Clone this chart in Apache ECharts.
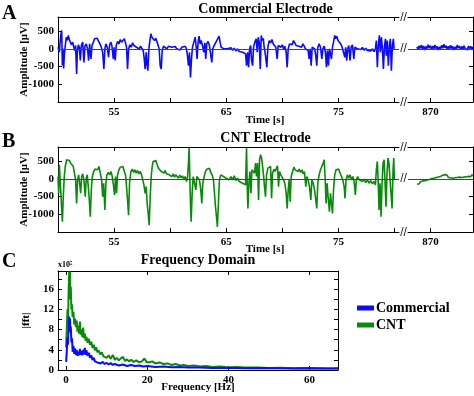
<!DOCTYPE html>
<html>
<head>
<meta charset="utf-8">
<script src="https://cdn.jsdelivr.net/npm/echarts@6.0.0/dist/echarts.min.js"></script>
<style>html,body{margin:0;padding:0;background:#fff;}#c{width:474px;height:396px;}</style>
</head>
<body>
<div id="c"></div>
<script>
// ---------------- DATA ----------------
const timeTicks = [55, 60, 65, 70, 75, 80];
const timeLabels = [55, 65, 75];
const tailTicks = [870];
const tailLabels = [870];
const ampTicks = [-1000, -500, 0, 500];
const ampLabels = [-1000, -500, 0, 500];
const freqTicks = [0, 20, 40, 60];
const freqLabels = [0, 20, 40, 60];
const fftTicks = [0, 2, 4, 6, 8, 10, 12, 14, 16, 18];
const fftLabels = [0, 4, 8, 12, 16];

const commercialTrace = [
[50.00,47],[50.12,-95],[50.24,380],[50.33,520],[50.39,-470],[50.45,0],[50.50,-550],[50.56,-190],[50.65,95],[50.74,330],
[50.83,240],[50.92,380],[51.01,265],[51.10,190],[51.19,115],[51.31,190],[51.39,75],[51.48,-47],[51.57,95],[51.66,-710],
[51.72,-95],[51.81,115],[51.90,47],[51.99,-330],[52.08,95],[52.20,190],[52.31,-380],[52.40,75],[52.52,140],[52.64,0],
[52.73,-330],[52.82,140],[52.94,-285],[53.03,95],[53.15,190],[53.26,285],[53.38,235],[53.50,300],[53.62,210],[53.74,140],
[53.86,47],[53.98,-95],[54.09,-570],[54.18,0],[54.27,140],[54.39,47],[54.51,-235],[54.60,115],[54.72,190],[54.81,75],
[54.93,-285],[55.01,47],[55.10,-330],[55.19,95],[55.31,210],[55.43,140],[55.55,265],[55.67,190],[55.79,235],[55.91,285],
[56.02,170],[56.11,47],[56.20,-570],[56.29,0],[56.41,115],[56.53,47],[56.65,170],[56.77,95],[56.88,140],[57.00,47],
[57.12,95],[57.24,0],[57.36,75],[57.48,20],[57.60,-47],[57.69,-285],[57.77,-570],[57.86,-95],[57.92,-380],[58.01,-615],
[58.10,0],[58.19,235],[58.28,425],[58.37,330],[58.49,380],[58.61,235],[58.72,300],[58.84,190],[58.93,95],[59.02,0],
[59.11,-475],[59.20,-570],[59.29,-47],[59.41,75],[59.55,47],[59.70,0],[59.85,75],[60.00,20],[60.15,47],[60.30,0],
[60.45,65],[60.59,0],[60.74,30],[60.89,-30],[61.04,47],[61.19,0],[61.34,75],[61.45,0],[61.54,-190],[61.63,-475],
[61.72,-95],[61.81,-805],[61.90,-285],[61.99,47],[62.11,190],[62.23,330],[62.31,95],[62.40,-285],[62.49,190],[62.58,360],
[62.67,140],[62.76,235],[62.88,95],[63.00,-95],[63.09,170],[63.17,-285],[63.26,140],[63.38,210],[63.50,95],[63.62,47],
[63.71,-380],[63.80,0],[63.92,95],[64.04,140],[64.15,235],[64.27,190],[64.36,360],[64.45,190],[64.54,47],[64.66,95],
[64.81,0],[64.96,47],[65.10,0],[65.25,30],[65.42,30],[65.57,-40],[65.71,20],[65.86,-57],[66.01,0],[66.16,-75],
[66.31,-20],[66.46,-95],[66.60,-47],[66.72,-140],[66.81,-475],[66.90,-95],[66.99,-520],[67.08,0],[67.17,95],[67.26,-330],
[67.35,-475],[67.43,47],[67.55,190],[67.67,285],[67.76,-95],[67.85,330],[67.94,190],[68.03,-570],[68.12,380],[68.21,235],
[68.30,300],[68.38,47],[68.50,-190],[68.62,-520],[68.71,47],[68.83,235],[68.95,170],[69.07,265],[69.19,140],[69.30,190],
[69.42,47],[69.54,-285],[69.63,95],[69.75,140],[69.87,47],[69.99,115],[70.11,0],[70.22,75],[70.34,-95],[70.43,-520],
[70.52,0],[70.64,140],[70.76,190],[70.88,115],[71.00,235],[71.11,170],[71.23,95],[71.35,140],[71.47,75],[71.59,115],
[71.71,47],[71.83,140],[71.95,75],[72.06,0],[72.18,47],[72.30,-47],[72.39,-285],[72.48,0],[72.57,-475],[72.66,47],
[72.78,95],[72.89,0],[72.98,-190],[73.07,-475],[73.16,47],[73.28,140],[73.40,47],[73.52,-285],[73.61,0],[73.73,75],
[73.84,-95],[73.93,-520],[74.02,-47],[74.11,-475],[74.20,0],[74.29,47],[74.38,-285],[74.47,47],[74.56,190],[74.67,380],
[74.76,285],[74.85,360],[74.97,235],[75.09,265],[75.21,140],[75.33,47],[75.45,0],[75.57,-235],[75.65,47],[75.74,-330],
[75.83,0],[75.92,95],[76.04,-330],[76.13,47],[76.25,115],[76.37,-285],[76.46,47],[76.57,95],[76.69,0],[76.84,47],
[76.99,-20],[77.14,40],[77.29,-40],[77.43,20],[77.58,-47],[77.73,0],[77.88,-57],[78.03,0],[78.18,-75],[78.30,0],
[78.38,235],[78.47,-520],[78.56,95],[78.65,380],[78.74,-95],[78.83,330],[78.92,0],[79.01,-570],[79.10,47],[79.19,285],
[79.27,-190],[79.36,235],[79.45,-475],[79.54,47],[79.63,285],[79.72,-615],[79.81,95],[79.90,285],[79.96,0]
];

const commercialTail = [
[868.8,60],[868.9,-20],[869.0,90],[869.1,10],[869.2,110],[869.3,0],[869.4,80],[869.5,-30],[869.6,70],[869.7,10],
[869.8,120],[869.9,20],[870.0,90],[870.1,-20],[870.2,80],[870.3,0],[870.4,110],[870.5,10],[870.6,70],[870.7,-30],
[870.8,60],[870.9,0],[871.0,100],[871.1,20],[871.2,130],[871.3,30],[871.4,90],[871.5,-10],[871.6,70],[871.7,0],
[871.8,100],[871.9,10],[872.0,70],[872.1,-30],[872.2,60],[872.3,0],[872.4,110],[872.5,20],[872.6,80],[872.7,-20],
[872.8,70],[872.9,0],[873.0,90],[873.1,10],[873.2,60],[873.3,-30],[873.4,80],[873.5,10],[873.6,70],[873.7,-10],[873.8,60]
];

const cntTrace = [
[50.00,66],[50.06,-407],[50.12,398],[50.21,-123],[50.30,-691],[50.39,-1212],[50.47,-502],[50.56,66],[50.65,350],[50.77,540],
[50.89,587],[51.01,521],[51.13,445],[51.25,464],[51.36,350],[51.48,303],[51.57,-28],[51.66,-691],[51.75,-28],[51.84,114],
[51.93,-123],[52.02,-407],[52.11,66],[52.20,142],[52.31,-28],[52.43,-502],[52.52,19],[52.61,114],[52.70,-218],[52.79,-597],
[52.88,-1070],[52.97,-312],[53.06,66],[53.18,208],[53.29,275],[53.41,331],[53.53,256],[53.65,350],[53.77,161],[53.89,-28],
[53.98,-502],[54.07,-123],[54.18,-881],[54.27,-123],[54.36,114],[54.48,180],[54.60,114],[54.72,208],[54.84,66],[54.96,-218],
[55.04,-455],[55.13,66],[55.22,-407],[55.31,114],[55.43,256],[55.55,331],[55.67,275],[55.79,350],[55.91,208],[56.02,114],
[56.11,-218],[56.20,-597],[56.29,-1023],[56.38,-123],[56.50,208],[56.62,275],[56.74,180],[56.85,256],[56.97,161],[57.09,237],
[57.21,142],[57.33,208],[57.45,114],[57.57,66],[57.66,-170],[57.77,-407],[57.86,-218],[57.95,-691],[58.04,-975],[58.13,-1307],
[58.22,-502],[58.31,66],[58.40,350],[58.48,492],[58.61,445],[58.72,521],[58.84,398],[58.96,303],[59.08,331],[59.20,208],
[59.32,256],[59.44,161],[59.55,237],[59.67,142],[59.79,180],[59.91,114],[60.03,161],[60.15,66],[60.27,142],[60.39,47],
[60.50,114],[60.62,66],[60.74,19],[60.86,104],[60.98,28],[61.10,85],[61.22,-9],[61.34,66],[61.45,-76],[61.54,19],
[61.63,445],[61.69,880],[61.75,66],[61.81,-691],[61.87,-1212],[61.96,-407],[62.05,66],[62.17,19],[62.29,-312],[62.37,66],
[62.49,114],[62.61,-28],[62.73,-312],[62.82,-691],[62.91,-123],[63.03,66],[63.15,208],[63.26,275],[63.38,237],[63.50,303],
[63.62,180],[63.74,114],[63.86,-28],[63.95,-407],[64.04,-786],[64.13,-1070],[64.21,-1354],[64.30,-691],[64.39,-28],[64.51,114],
[64.63,161],[64.75,66],[64.87,114],[64.99,19],[65.10,66],[65.25,-28],[65.42,66],[65.57,-28],[65.71,85],[65.86,-47],
[66.01,19],[66.16,-76],[66.31,-28],[66.46,-123],[66.60,-76],[66.72,-170],[66.81,880],[66.87,-218],[66.93,-833],[67.02,-123],
[67.11,208],[67.20,-407],[67.29,256],[67.40,303],[67.52,161],[67.61,445],[67.70,66],[67.79,445],[67.88,-597],[67.97,540],
[68.06,682],[68.15,587],[68.24,350],[68.32,114],[68.41,-218],[68.50,-502],[68.59,114],[68.71,303],[68.83,256],[68.95,350],
[69.04,-549],[69.13,161],[69.24,275],[69.36,208],[69.48,303],[69.57,369],[69.66,-218],[69.75,208],[69.87,114],[69.99,66],
[70.11,-28],[70.22,-123],[70.34,-407],[70.43,-833],[70.52,-312],[70.61,-28],[70.70,-644],[70.79,66],[70.91,208],[71.03,331],
[71.14,256],[71.26,303],[71.38,208],[71.50,275],[71.62,180],[71.74,256],[71.86,142],[71.97,208],[72.09,-218],[72.18,66],
[72.30,-28],[72.42,-218],[72.54,-597],[72.63,-28],[72.75,-123],[72.87,-312],[72.98,-597],[73.07,-833],[73.16,-123],[73.28,114],
[73.40,256],[73.52,350],[73.64,445],[73.73,540],[73.81,66],[73.90,-691],[73.99,-123],[74.08,-502],[74.20,-928],[74.29,-407],
[74.38,-691],[74.47,-975],[74.56,-312],[74.67,114],[74.79,256],[74.91,208],[75.03,275],[75.15,161],[75.27,66],[75.39,-28],
[75.51,-218],[75.59,-549],[75.68,-28],[75.80,114],[75.92,19],[76.04,114],[76.16,-28],[76.28,66],[76.40,-76],[76.51,-455],
[76.60,-28],[76.72,66],[76.84,-28],[76.99,19],[77.14,-76],[77.29,-9],[77.43,-104],[77.58,-28],[77.73,-123],[77.88,-47],
[78.03,-142],[78.18,-76],[78.30,-170],[78.38,256],[78.47,492],[78.56,-218],[78.62,-881],[78.71,-123],[78.80,-1070],[78.89,-123],
[78.98,445],[79.07,540],[79.16,-123],[79.24,-786],[79.33,161],[79.42,587],[79.51,445],[79.60,-28],[79.69,-407],[79.78,-833],
[79.87,256],[79.93,587],[79.99,-28]
];

const cntTail = [
[868.8,-150],[868.9,-100],[869.0,-140],[869.1,-80],[869.2,-120],[869.3,-60],[869.4,-110],[869.5,-50],[869.6,-90],[869.7,-30],
[869.8,-80],[869.9,-20],[870.0,-60],[870.1,0],[870.2,-40],[870.3,20],[870.4,-20],[870.5,40],[870.6,0],[870.7,50],
[870.8,10],[870.9,70],[871.0,30],[871.1,100],[871.2,60],[871.3,120],[871.4,70],[871.5,100],[871.6,40],[871.7,80],
[871.8,30],[871.9,70],[872.0,20],[872.1,70],[872.2,30],[872.3,80],[872.4,40],[872.5,90],[872.6,50],[872.7,90],
[872.8,40],[872.9,90],[873.0,50],[873.1,100],[873.2,60],[873.3,110],[873.4,70],[873.5,110],[873.6,60],[873.7,120],[873.8,80]
];

const cntSpectrum = [
[0.0,4.5],[0.2,9],[0.35,12],[0.5,10.5],[0.6,15],[0.75,19.4],[0.85,17],[0.95,19.5],[1.05,14],[1.15,16.5],
[1.3,12],[1.45,13],[1.6,10.5],[1.8,11.5],[2.0,9],[2.2,10.2],[2.4,8.5],[2.6,9.8],[2.8,7.6],[3.0,8.8],
[3.2,7.2],[3.4,9.6],[3.6,7.0],[3.8,8.0],[4.0,6.5],[4.2,8.4],[4.4,6.3],[4.6,7.2],[4.8,5.8],[5.0,6.6],
[5.3,5.4],[5.6,6.2],[5.9,5.0],[6.2,5.6],[6.5,4.4],[6.8,5.0],[7.1,3.9],[7.4,4.5],[7.7,3.5],[8.0,3.9],
[8.4,3.1],[8.8,3.5],[9.2,2.7],[9.6,3.0],[10.0,2.4],[10.5,2.9],[11.0,2.2],[11.5,3.0],[12.0,2.0],[12.5,2.4],
[13.0,1.9],[13.5,2.3],[14.0,2.6],[14.5,1.8],[15.0,2.1],[15.5,1.7],[16.0,2.0],[16.7,1.6],[17.3,1.9],[18.0,1.5],
[18.7,1.7],[19.3,2.3],[19.8,1.6],[20.5,1.5],[21.2,1.7],[22.0,1.3],[23.0,1.5],[24.0,1.2],[25.0,1.3],[26.0,1.0],
[27.0,1.2],[28.0,0.9],[29.0,1.0],[30.0,0.8],[31.5,0.9],[33.0,0.7],[34.5,0.8],[36.0,0.6],[38.0,0.7],[40.0,0.5],
[42.0,0.6],[44.0,0.5],[47.0,0.5],[50.0,0.4],[53.0,0.45],[56.0,0.35],[59.0,0.4],[62.0,0.35],[65.0,0.3],[67.0,0.35]
];

const commercialSpectrum = [
[0.0,1.6],[0.15,3.5],[0.3,6.5],[0.45,5.0],[0.6,8.5],[0.75,10.6],[0.85,9.0],[0.95,10.2],[1.05,7.5],[1.15,8.6],
[1.3,5.5],[1.45,6.3],[1.6,3.6],[1.8,4.8],[2.0,3.2],[2.2,4.3],[2.4,3.0],[2.6,4.0],[2.8,2.8],[3.0,3.6],
[3.2,2.9],[3.4,4.2],[3.6,3.0],[3.8,3.8],[4.0,2.9],[4.2,4.0],[4.4,3.1],[4.6,4.4],[4.8,3.0],[5.0,3.9],
[5.3,2.8],[5.6,3.4],[5.9,2.4],[6.2,2.9],[6.5,2.0],[6.8,2.4],[7.1,1.7],[7.4,2.0],[7.7,1.5],[8.0,1.8],
[8.5,1.3],[9.0,1.6],[9.5,1.2],[10.0,1.4],[10.5,1.1],[11.0,1.4],[11.5,1.0],[12.0,1.2],[13.0,0.9],[14.0,1.1],
[15.0,0.8],[16.0,1.0],[17.0,0.8],[18.0,0.9],[19.0,0.7],[20.0,0.8],[22.0,0.6],[24.0,0.7],[26.0,0.55],[28.0,0.6],
[30.0,0.5],[33.0,0.5],[36.0,0.4],[40.0,0.45],[44.0,0.35],[48.0,0.4],[52.0,0.35],[56.0,0.3],[60.0,0.35],[64.0,0.3],[67.0,0.3]
];

// ---------------- CHART ----------------
const SERIF = '"Liberation Serif", "Times New Roman", serif';
const BLUE = '#0a0aff';
const GREEN = '#0a8a0a';
const lbl = { fontFamily: SERIF, fontWeight: 'bold', fontSize: 11, color: '#000', formatter: v => String(v) };

function xAx(grid, min, max, ticks, labels, pos) {
  return {
    type: 'value', gridIndex: grid, min: min, max: max, position: pos,
    axisLine: { show: true, onZero: false, lineStyle: { color: '#000', width: 1 } },
    axisTick: { show: true, inside: true, length: 4, customValues: ticks, lineStyle: { color: '#000' } },
    axisLabel: pos === 'bottom' ? Object.assign({ show: true, margin: 5, customValues: labels }, lbl) : { show: false },
    splitLine: { show: false }
  };
}
function yAx(grid, min, max, ticks, labels, pos, name, gap) {
  return {
    type: 'value', gridIndex: grid, min: min, max: max, position: pos,
    axisLine: { show: true, onZero: false, lineStyle: { color: '#000', width: 1 } },
    axisTick: { show: true, inside: true, length: 4, customValues: ticks, lineStyle: { color: '#000' } },
    axisLabel: pos === 'left' ? Object.assign({ show: true, margin: 4, customValues: labels }, lbl) : { show: false },
    splitLine: { show: false },
    name: name || '', nameLocation: 'middle', nameRotate: 90, nameGap: gap || 0, nameMoveOverlap: false,
    nameTextStyle: { fontFamily: SERIF, fontWeight: 'bold', fontSize: 11, color: '#000' }
  };
}
const zeroLine = {
  silent: true, symbol: 'none', label: { show: false },
  lineStyle: { color: '#444', width: 1, type: 'solid' },
  data: [{ yAxis: 0 }], animation: false
};
function traceSeries(name, data, xi, yi, color, withZero) {
  return {
    name: name, type: 'line', data: data, xAxisIndex: xi, yAxisIndex: yi,
    showSymbol: false, symbol: 'none', sampling: null, animation: false,
    lineStyle: { color: color, width: 1.6 }, itemStyle: { color: color },
    markLine: withZero ? zeroLine : undefined, z: 2
  };
}

function txt(x, y, text, size, align, extra) {
  return Object.assign({
    type: 'text', x: x, y: y, z: 100,
    style: {
      text: text, font: 'bold ' + size + 'px ' + SERIF, fill: '#000',
      align: align || 'center', verticalAlign: 'middle',
      textAlign: align || 'center', textVerticalAlign: 'middle'
    }
  }, extra || {});
}
function brk(x, y) {
  return {
    type: 'text', x: x, y: y, z: 100,
    style: { text: '//', font: '10px "DejaVu Sans", sans-serif', fill: '#000',
      align: 'center', verticalAlign: 'middle', textAlign: 'center', textVerticalAlign: 'middle' }
  };
}
function gridBox(left, top, width, height) {
  return { left: left, top: top, width: width, height: height, containLabel: false, outerBoundsMode: 'none' };
}

const chart = echarts.init(document.getElementById('c'), null, { renderer: 'canvas' });
const option = {
  animation: false,
  backgroundColor: '#fff',
  grid: [
    gridBox(58, 17, 341, 85),
    gridBox(408, 17, 65, 85),
    gridBox(58, 147, 341, 85),
    gridBox(408, 147, 65, 85),
    gridBox(58, 271, 280, 99)
  ],
  xAxis: [
    xAx(0, 50, 80.4, timeTicks, timeLabels, 'bottom'),
    xAx(0, 50, 80.4, timeTicks, timeLabels, 'top'),
    xAx(1, 868, 873.8, tailTicks, tailLabels, 'bottom'),
    xAx(1, 868, 873.8, tailTicks, tailLabels, 'top'),
    xAx(2, 50, 80.4, timeTicks, timeLabels, 'bottom'),
    xAx(2, 50, 80.4, timeTicks, timeLabels, 'top'),
    xAx(3, 868, 873.8, tailTicks, tailLabels, 'bottom'),
    xAx(3, 868, 873.8, tailTicks, tailLabels, 'top'),
    xAx(4, -2, 67, freqTicks, freqLabels, 'bottom'),
    xAx(4, -2, 67, freqTicks, freqLabels, 'top')
  ],
  yAxis: [
    yAx(0, -1500, 900, ampTicks, ampLabels, 'left', 'Amplitude [μV]', 28),
    yAx(1, -1500, 900, ampTicks, ampLabels, 'right'),
    yAx(2, -1500, 900, ampTicks, ampLabels, 'left', 'Amplitude [μV]', 28),
    yAx(3, -1500, 900, ampTicks, ampLabels, 'right'),
    yAx(4, 0, 19.6, fftTicks, fftLabels, 'left', '|fft|', 26),
    yAx(4, 0, 19.6, fftTicks, fftLabels, 'right')
  ],
  legend: {
    data: ['Commercial', 'CNT'], orient: 'vertical', left: 357, top: 301,
    icon: 'rect', itemWidth: 17, itemHeight: 5, itemGap: 3, padding: 0,
    textStyle: { fontFamily: SERIF, fontWeight: 'bold', fontSize: 14, color: '#000', padding: [0, 0, 0, -3] }
  },
  series: [
    traceSeries('Commercial Electrode', commercialTrace, 0, 0, BLUE, true),
    traceSeries('Commercial Electrode end', commercialTail, 2, 1, BLUE, true),
    traceSeries('CNT Electrode', cntTrace, 4, 2, GREEN, true),
    traceSeries('CNT Electrode end', cntTail, 6, 3, GREEN, true),
    { name: 'CNT', type: 'line', data: cntSpectrum, xAxisIndex: 8, yAxisIndex: 4, showSymbol: false, symbol: 'none',
      lineStyle: { color: GREEN, width: 2 }, itemStyle: { color: GREEN }, z: 2 },
    { name: 'Commercial', type: 'line', data: commercialSpectrum, xAxisIndex: 8, yAxisIndex: 4, showSymbol: false, symbol: 'none',
      lineStyle: { color: BLUE, width: 2 }, itemStyle: { color: BLUE }, z: 3 }
  ],
  graphic: [
    txt(265.5, 9, 'Commercial Electrode', 14),
    txt(265.5, 138, 'CNT Electrode', 14),
    txt(198, 260, 'Frequency Domain', 14),
    txt(2, 14, 'A', 20, 'left'),
    txt(2, 142, 'B', 20, 'left'),
    txt(2, 262, 'C', 20, 'left'),
    txt(265, 120, 'Time [s]', 11),
    txt(265, 249, 'Time [s]', 11),
    txt(198, 387, 'Frequency [Hz]', 11),
    txt(58, 265, 'x10⁵', 8, 'left'),
    brk(403.5, 17), brk(403.5, 102), brk(403.5, 48.9),
    brk(403.5, 147), brk(403.5, 232), brk(403.5, 178.9)
  ]
};
chart.setOption(option);
</script>
</body>
</html>
